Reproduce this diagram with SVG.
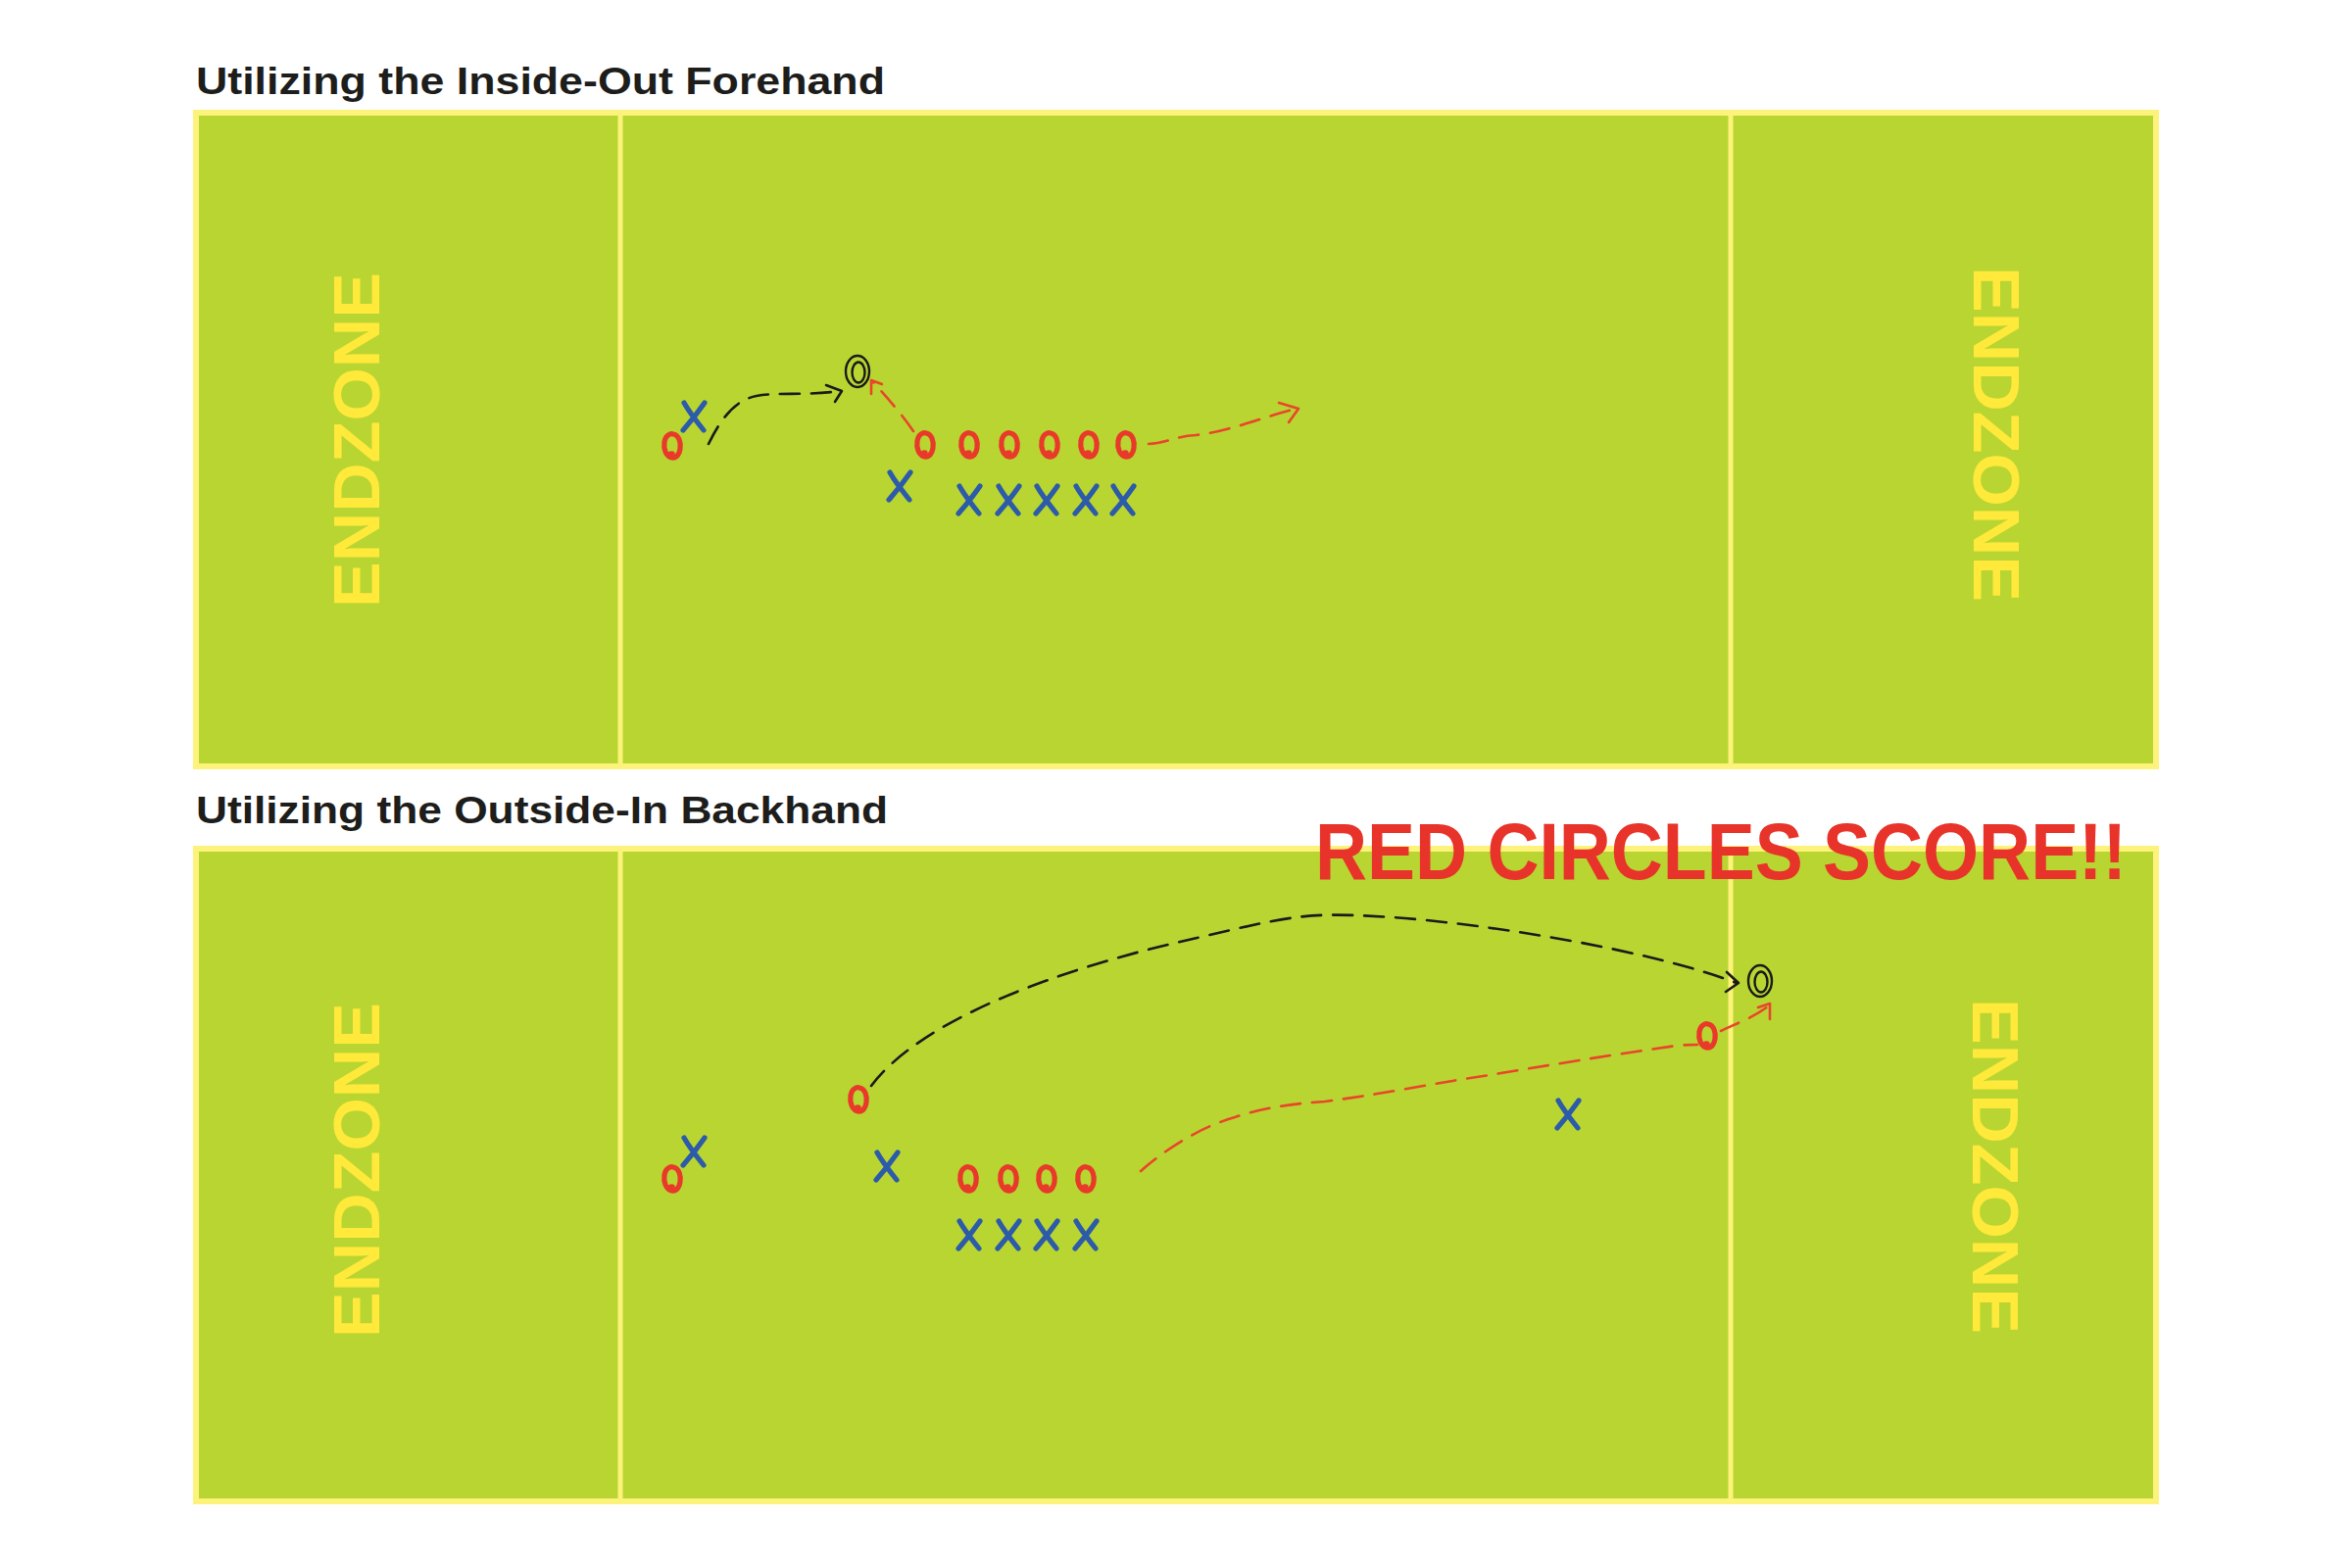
<svg xmlns="http://www.w3.org/2000/svg" xmlns:xlink="http://www.w3.org/1999/xlink" width="2400" height="1600" viewBox="0 0 2400 1600">
<style>
.field{fill:#B9D532;stroke:#FDF27A;stroke-width:6}
.fline{stroke:#FDF27A;stroke-width:5}
.ez{font-family:"Liberation Sans",Arial,sans-serif;font-weight:bold;font-size:66px;fill:#FFE93A}
.title{font-family:"Liberation Sans",Arial,sans-serif;font-weight:bold;font-size:39px;fill:#1d1d1b}
.score{font-family:"Liberation Sans",Arial,sans-serif;font-weight:bold;font-size:82px;fill:#E8332A}
.o{fill:none;stroke:#E8392A;stroke-width:5.2;stroke-linecap:round}
.x{fill:none;stroke:#2C5BA9;stroke-width:5.2;stroke-linecap:round}
.t{fill:none;stroke:#1a1a1a;stroke-width:2.4}
.dk{fill:none;stroke:#1a1a1a;stroke-width:2.6;stroke-dasharray:20 12;stroke-linecap:round}
.dr{fill:none;stroke:#E8462A;stroke-width:2.6;stroke-dasharray:20 12;stroke-linecap:round}
.ak{fill:none;stroke:#1a1a1a;stroke-width:2.6;stroke-linecap:round;stroke-linejoin:round}
.ar{fill:none;stroke:#E8462A;stroke-width:2.6;stroke-linecap:round;stroke-linejoin:round}
</style>
<defs>
<path id="O" class="o" d="M1,12 C-7,12 -9,2 -8,-4 C-7,-11 -2,-13 1,-12 C7,-11 9,-3 8,3 C7,10 3,13 -1,12 C-4,11 -3,7 0,8"/>
<path id="X" class="x" d="M-10,-14 C-5,-5 2,4 10,14 M11,-14 C4,-4 -3,5 -11,14"/>
<g id="T"><ellipse class="t" cx="0" cy="0" rx="12" ry="16"/><ellipse class="t" cx="1" cy="1" rx="6.5" ry="10.5"/></g>
</defs>
<rect width="2400" height="1600" fill="#ffffff"/>

<g id="field-top">
<rect class="field" x="200" y="115" width="2000" height="667"/>
<line class="fline" x1="633" y1="115" x2="633" y2="782"/>
<line class="fline" x1="1766" y1="115" x2="1766" y2="782"/>
<text class="ez" transform="translate(387,449) rotate(-90)" text-anchor="middle" textLength="342" lengthAdjust="spacingAndGlyphs">ENDZONE</text>
<text class="ez" transform="translate(2014,443) rotate(90)" text-anchor="middle" textLength="342" lengthAdjust="spacingAndGlyphs">ENDZONE</text>
</g>
<g id="field-bottom">
<rect class="field" x="200" y="866" width="2000" height="666"/>
<line class="fline" x1="633" y1="866" x2="633" y2="1532"/>
<line class="fline" x1="1766" y1="866" x2="1766" y2="1532"/>
<text class="ez" transform="translate(387,1194) rotate(-90)" text-anchor="middle" textLength="342" lengthAdjust="spacingAndGlyphs">ENDZONE</text>
<text class="ez" transform="translate(2013,1190) rotate(90)" text-anchor="middle" textLength="342" lengthAdjust="spacingAndGlyphs">ENDZONE</text>
</g>

<g id="titles">
<text class="title" x="200" y="96" textLength="703" lengthAdjust="spacingAndGlyphs">Utilizing the Inside-Out Forehand</text>
<text class="title" x="200" y="840" textLength="706" lengthAdjust="spacingAndGlyphs">Utilizing the Outside-In Backhand</text>
<text id="score" class="score" x="1342" y="897" textLength="828" lengthAdjust="spacingAndGlyphs">RED CIRCLES SCORE!!</text>
</g>

<g id="connectors">
<path class="dk" d="M723,453 C735,428 750,408 772,404 C795,400 820,404 858,399"/>
<path class="ak" d="M843,393 L859,399 L852,410"/>
<path class="dr" d="M932,440 C922,425 905,405 891,390"/>
<path class="ar" d="M889,402 L889,388 L900,392"/>
<path class="dr" d="M1172,453 C1190,452 1200,445 1220,444 C1255,440 1290,425 1323,417"/>
<path class="ar" d="M1305,411 L1325,417 L1315,431"/>
<path class="dk" d="M889,1108 C940,1040 1080,990 1200,962 S1330,930 1420,936 S1680,968 1772,1003"/>
<path class="ak" d="M1762,992 L1774,1003 L1761,1012"/>
<path class="dr" d="M1164,1195 C1190,1172 1225,1150 1260,1140 C1290,1130 1320,1126 1352,1124 C1420,1115 1470,1104 1520,1097 C1580,1087 1640,1077 1711,1067 C1720,1066 1728,1066 1732,1066"/>
<path class="dr" d="M1756,1052 C1770,1045 1790,1038 1804,1027"/>
<path class="ar" d="M1794,1028 L1806,1024 L1806,1040"/>
</g>

<g id="top-players">
<g id="t-o1"><use xlink:href="#O" x="686" y="455"/></g>
<g id="t-x1"><use xlink:href="#X" x="708" y="425"/></g>
<g id="t-target"><use xlink:href="#T" x="875" y="379"/></g>
<g id="t-o2"><use xlink:href="#O" x="944" y="454"/></g>
<g id="t-o3"><use xlink:href="#O" x="989" y="454"/></g>
<g id="t-o4"><use xlink:href="#O" x="1030" y="454"/></g>
<g id="t-o5"><use xlink:href="#O" x="1071" y="454"/></g>
<g id="t-o6"><use xlink:href="#O" x="1111" y="454"/></g>
<g id="t-o7"><use xlink:href="#O" x="1149" y="454"/></g>
<g id="t-x2"><use xlink:href="#X" x="918" y="496"/></g>
<g id="t-x3"><use xlink:href="#X" x="989" y="510"/></g>
<g id="t-x4"><use xlink:href="#X" x="1029" y="510"/></g>
<g id="t-x5"><use xlink:href="#X" x="1068" y="510"/></g>
<g id="t-x6"><use xlink:href="#X" x="1108" y="510"/></g>
<g id="t-x7"><use xlink:href="#X" x="1146" y="510"/></g>
</g>

<g id="bottom-players">
<g id="b-o1"><use xlink:href="#O" x="686" y="1203"/></g>
<g id="b-x1"><use xlink:href="#X" x="708" y="1175"/></g>
<g id="b-o2"><use xlink:href="#O" x="876" y="1122"/></g>
<g id="b-x2"><use xlink:href="#X" x="905" y="1190"/></g>
<g id="b-o3"><use xlink:href="#O" x="988" y="1203"/></g>
<g id="b-o4"><use xlink:href="#O" x="1029" y="1203"/></g>
<g id="b-o5"><use xlink:href="#O" x="1068" y="1203"/></g>
<g id="b-o6"><use xlink:href="#O" x="1108" y="1203"/></g>
<g id="b-x3"><use xlink:href="#X" x="989" y="1260"/></g>
<g id="b-x4"><use xlink:href="#X" x="1029" y="1260"/></g>
<g id="b-x5"><use xlink:href="#X" x="1068" y="1260"/></g>
<g id="b-x6"><use xlink:href="#X" x="1108" y="1260"/></g>
<g id="b-x7"><use xlink:href="#X" x="1600" y="1137"/></g>
<g id="b-o7"><use xlink:href="#O" x="1742" y="1057"/></g>
<g id="b-target"><use xlink:href="#T" x="1796" y="1001"/></g>
</g>
</svg>
